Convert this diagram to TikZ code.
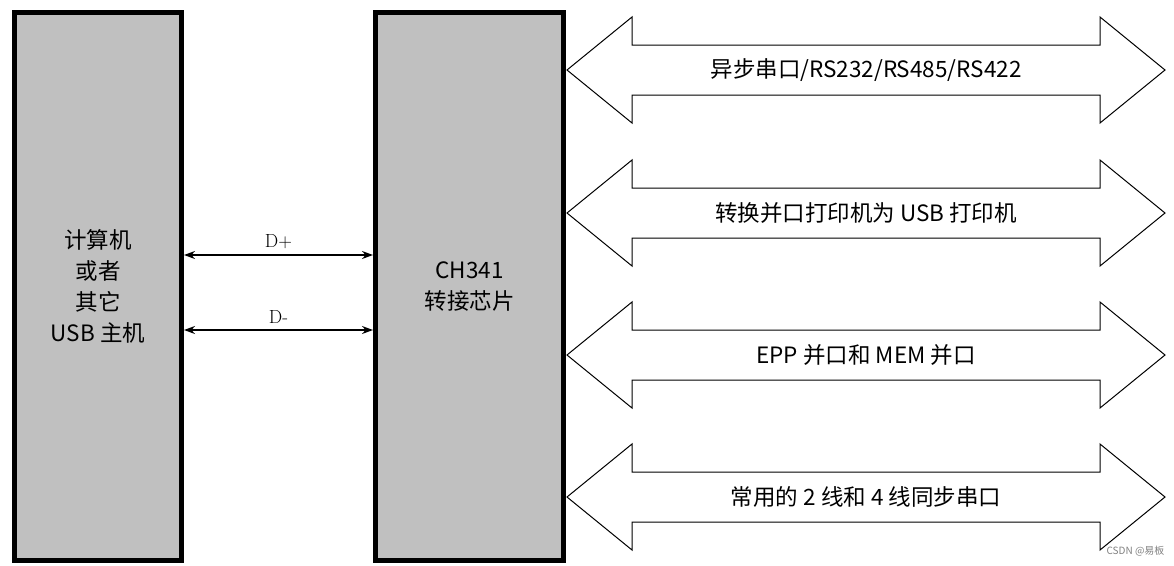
\documentclass[tikz,border=0pt]{standalone}
\usepackage{fontspec}
\usetikzlibrary{arrows.meta}
\newfontfamily\cjk{Noto Sans CJK SC}
\begin{document}
\begin{tikzpicture}[x=1pt,y=-1pt,
  blk/.style={draw=black,line width=5pt,fill={rgb,255:red,192;green,192;blue,192}},
  lbl/.style={font=\cjk\fontsize{22.5}{31}\selectfont,align=center},
  dbl/.style={draw=black,line width=1pt,fill=white},
  dl/.style={midway,above=2pt,font=\fontsize{19}{20}\selectfont}]
\useasboundingbox (0,0) rectangle (1174,565);
\node[blk,minimum width=167,minimum height=548,anchor=north west] (host) at (12,10) {};
\node[blk,minimum width=188,minimum height=548,anchor=north west] (chip) at (373,10) {};
\node[lbl] at (host.center) {计算机\\或者\\其它\\USB 主机};
\node[lbl] at (chip.center) {CH341\\转接芯片};
\coordinate (a1) at (host.east|-0,255); \coordinate (b1) at (chip.west|-0,255);
\coordinate (a2) at (host.east|-0,330); \coordinate (b2) at (chip.west|-0,330);
\draw[line width=1.6pt,{Stealth[length=11pt,width=8pt]}-{Stealth[length=11pt,width=8pt]}] (a1) -- (b1) node[dl] {D+};
\draw[line width=1.6pt,{Stealth[length=11pt,width=8pt]}-{Stealth[length=11pt,width=8pt]}] (a2) -- (b2) node[dl] {D-};
\foreach \y/\t [count=\i] in {70/{异步串口/RS232/RS485/RS422},213/{转换并口打印机为 USB 打印机},355/{EPP 并口和 MEM 并口},497/{常用的 2 线和 4 线同步串口}}{
  \draw[dbl] (567,\y) -- (632,\y-53) -- (632,\y-25) -- (1100,\y-25) -- (1100,\y-53) -- (1165,\y)
     -- (1100,\y+53) -- (1100,\y+25) -- (632,\y+25) -- (632,\y+53) -- cycle;
  \node[lbl] (t\i) at (866,\y) {\t};
}
\node[font=\cjk\fontsize{10}{11}\selectfont,text=gray,anchor=south east] (wm) at (1168,560) {CSDN @易板};
\end{tikzpicture}
\end{document}
